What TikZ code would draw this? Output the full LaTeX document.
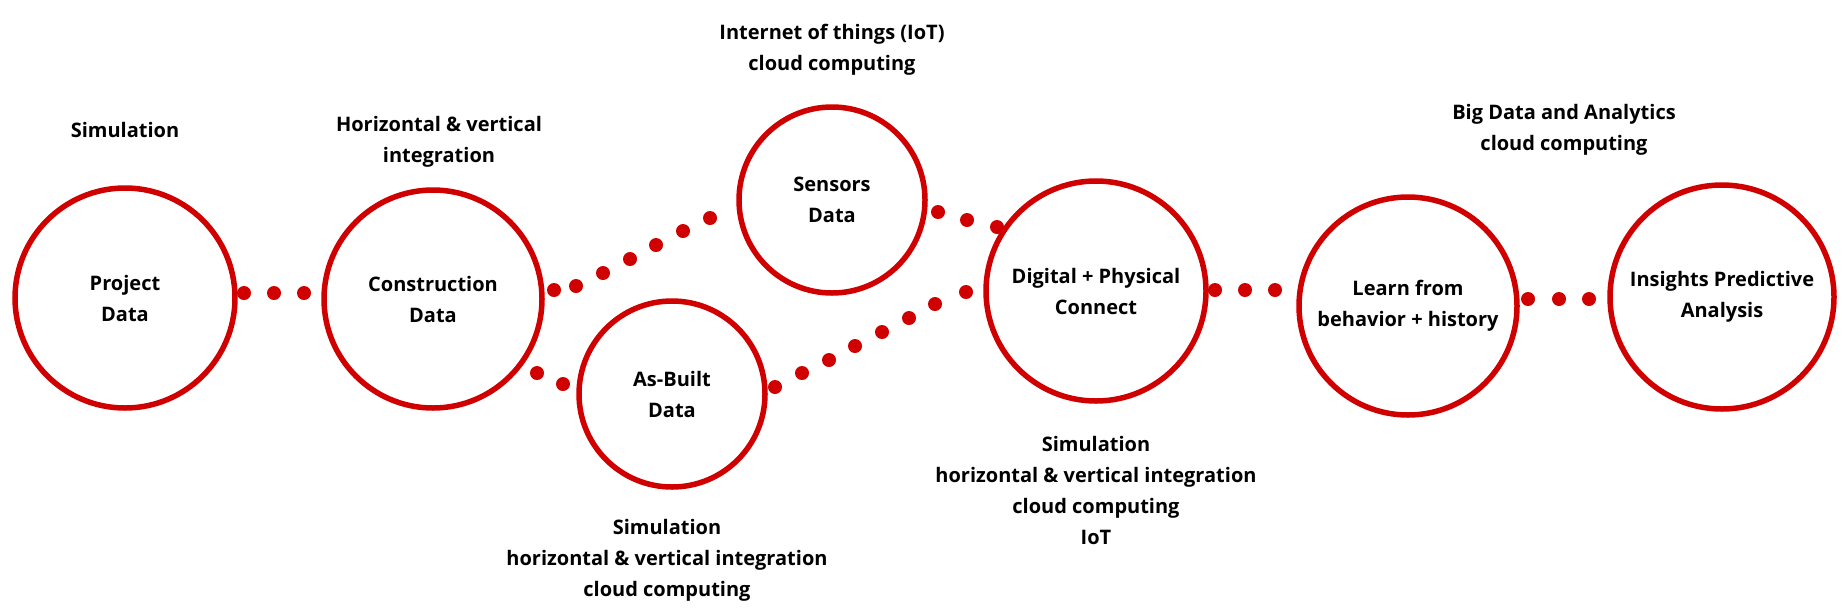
\documentclass[tikz,border=0pt]{standalone}
\usepackage{fontspec}
\setmainfont{Open Sans}[UprightFont=* Bold]
\definecolor{cred}{HTML}{D00000}
\begin{document}
\begin{tikzpicture}[x=1pt,y=-1pt,
  ring/.style={circle,draw=cred,line width=5.5pt,inner sep=0pt,align=center,font=\fontsize{20}{31}\selectfont},
  lbl/.style={align=center,inner sep=0pt,font=\fontsize{20}{31}\selectfont},
  dot/.style={circle,fill=cred,inner sep=0pt,minimum size=14pt}]
\useasboundingbox (0,0) rectangle (1843,614);
\node[ring,minimum size=220pt] (proj) at (125,298) {Project\\Data};
\node[ring,minimum size=218pt] (cons) at (433,299) {Construction\\Data};
\node[ring,minimum size=186pt] (sens) at (832,200) {Sensors\\Data};
\node[ring,minimum size=186pt] (asb) at (672,394) {As-Built\\Data};
\node[ring,minimum size=220pt] (dig) at (1096,291) {Digital + Physical\\Connect};
\node[ring,minimum size=218pt] (learn) at (1408,306) {Learn from\\behavior + history};
\node[ring,minimum size=224pt] (ins) at (1722,297) {Insights Predictive\\Analysis};
\node[lbl] (t1) at (125,130) {Simulation};
\node[lbl] (t2) at (439,142) {Horizontal \& vertical\\integration};
\node[lbl] (t3) at (832,50) {Internet of things (IoT)\\cloud computing};
\node[lbl] (t4) at (667,560) {Simulation\\horizontal \& vertical integration\\cloud computing};
\node[lbl] (t5) at (1096,490) {Simulation\\horizontal \& vertical integration\\cloud computing\\IoT};
\node[lbl] (t6) at (1564,130) {Big Data and Analytics\\cloud computing};
\foreach \p in {(244,293),(274,293),(304,293),
  (554,290),(576,286),(603,273),(630,259),(656,245),(683,231),(710,218),
  (537,373),(563,384),
  (938,212),(967,220),(997,227),
  (775,387),(802,373),(829,360),(855,346),(882,332),(909,318),(935,304),(966,292),
  (1215,290),(1245,290),(1275,290),
  (1528,299),(1559,299),(1589,299)}
  \node[dot] at \p {};
\end{tikzpicture}
\end{document}
